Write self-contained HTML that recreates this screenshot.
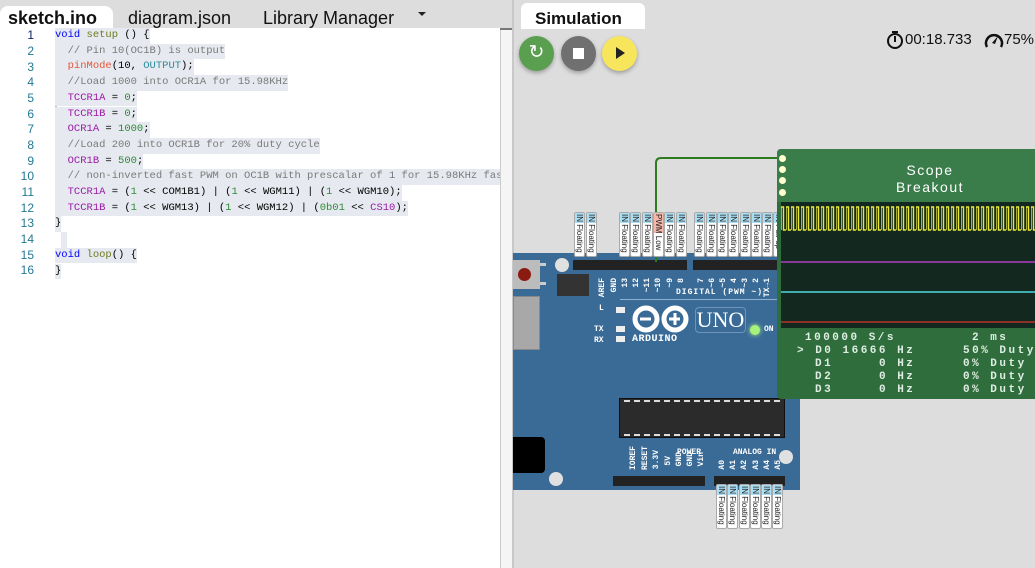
<!DOCTYPE html>
<html><head><meta charset="utf-8"><style>
*{margin:0;padding:0;box-sizing:border-box}
body{width:1035px;height:568px;overflow:hidden;background:#dddddd;position:relative;font-family:"Liberation Sans",sans-serif}
.a{position:absolute}
.tab{position:absolute;font-size:18px;color:#111;top:8px}
.code{position:absolute;left:0;top:28px;width:500px;height:540px;background:#fff}
.ln{position:absolute;left:0;width:34px;text-align:right;font:12px "Liberation Sans",sans-serif;color:#237893}
.cl{position:absolute;left:55px;font:10.5px/15.7px "Liberation Mono",monospace;white-space:pre;color:#000;background:#e6e9ef;height:15.7px}
.cm{color:#7a7a7a}.kw{color:#0000ff}.fn{color:#6f7a1f}.rd{color:#e4573b}.cy{color:#2a8a9c}.pu{color:#9b1aa8}.nu{color:#2e8b38}
.tag{position:absolute;width:11px;height:45px;background:#fff;border:1px solid #aaa;border-radius:2px;overflow:hidden}
.tag b{position:absolute;left:0;top:0;width:100%;height:10px;background:#a9def3}
.tag span{position:absolute;left:0;top:1px;writing-mode:vertical-rl;font-size:8px;line-height:9px;color:#222;white-space:nowrap}
.st{position:absolute;font:bold 11px "Liberation Mono",monospace;color:#dfeee2;letter-spacing:2.5px;white-space:pre}
.wl{position:absolute;font:bold 8px "Liberation Mono",monospace;color:#fff;writing-mode:vertical-rl;transform:rotate(180deg)}
</style></head><body>
<!-- left tabs -->
<div class="a" style="left:0;top:6px;width:113px;height:24px;background:#fff;border-radius:8px 8px 0 0"></div>
<div class="tab" style="left:8px;font-weight:bold">sketch.ino</div>
<div class="tab" style="left:128px">diagram.json</div>
<div class="tab" style="left:263px">Library Manager</div>
<div class="a" style="left:418px;top:12px;border:4px solid transparent;border-top:4px solid #222"></div>
<div class="code"></div>
<div class="a" style="left:500px;top:28px;width:12px;height:540px;background:#f5f5f5;border-left:1px solid #ccc"></div>
<div class="a" style="left:500px;top:28px;width:12px;height:2px;background:#777"></div>
<div class="a" style="left:512px;top:0;width:2px;height:568px;background:#c8c8c8"></div>
<div class="a" style="left:55px;top:44px;width:2px;height:173px;background:#bbb"></div>
<!-- code lines -->
<div class="ln" style="top:28px;color:#0b216f">1</div><div class="cl" style="top:28px"><span class="kw">void</span> <span class="fn">setup</span> () {</div>
<div class="ln" style="top:44px">2</div><div class="cl" style="top:43.7px"><span class="cm">  // Pin 10(OC1B) is output</span></div>
<div class="ln" style="top:60px">3</div><div class="cl" style="top:59.4px">  <span class="rd">pinMode</span>(10, <span class="cy">OUTPUT</span>);</div>
<div class="ln" style="top:75px">4</div><div class="cl" style="top:75.1px"><span class="cm">  //Load 1000 into OCR1A for 15.98KHz</span></div>
<div class="ln" style="top:91px">5</div><div class="cl" style="top:90.8px">  <span class="pu">TCCR1A</span> = <span class="nu">0</span>;</div>
<div class="ln" style="top:107px">6</div><div class="cl" style="top:106.5px">  <span class="pu">TCCR1B</span> = <span class="nu">0</span>;</div>
<div class="ln" style="top:122px">7</div><div class="cl" style="top:122.2px">  <span class="pu">OCR1A</span> = <span class="nu">1000</span>;</div>
<div class="ln" style="top:138px">8</div><div class="cl" style="top:137.9px"><span class="cm">  //Load 200 into OCR1B for 20% duty cycle</span></div>
<div class="ln" style="top:154px">9</div><div class="cl" style="top:153.6px">  <span class="pu">OCR1B</span> = <span class="nu">500</span>;</div>
<div class="ln" style="top:169px">10</div><div class="cl" style="top:169.3px;width:445px;overflow:hidden"><span class="cm">  // non-inverted fast PWM on OC1B with prescalar of 1 for 15.98KHz fast</span></div>
<div class="ln" style="top:185px">11</div><div class="cl" style="top:185px">  <span class="pu">TCCR1A</span> = (<span class="nu">1</span> &lt;&lt; COM1B1) | (<span class="nu">1</span> &lt;&lt; WGM11) | (<span class="nu">1</span> &lt;&lt; WGM10);</div>
<div class="ln" style="top:201px">12</div><div class="cl" style="top:200.7px">  <span class="pu">TCCR1B</span> = (<span class="nu">1</span> &lt;&lt; WGM13) | (<span class="nu">1</span> &lt;&lt; WGM12) | (<span class="nu">0b01</span> &lt;&lt; <span class="pu">CS10</span>);</div>
<div class="ln" style="top:216px">13</div><div class="cl" style="top:216.4px">}</div>
<div class="ln" style="top:232px">14</div><div class="cl" style="top:232.1px;left:61px"> </div>
<div class="ln" style="top:248px">15</div><div class="cl" style="top:247.8px"><span class="kw">void</span> <span class="fn">loop</span>() {</div>
<div class="ln" style="top:263px">16</div><div class="cl" style="top:263.5px">}</div>

<!-- simulation tab -->
<div class="a" style="left:521px;top:3px;width:124px;height:26px;background:#fff;border-radius:6px 6px 0 0"></div>
<div class="a" style="left:535px;top:9px;font-size:17px;font-weight:bold;color:#111">Simulation</div>
<div class="a" style="left:519px;top:36px;width:35px;height:35px;border-radius:50%;background:#5a9e50;box-shadow:0 2px 4px rgba(0,0,0,.3);color:#fff;font-size:19px;text-align:center;line-height:34px">&#x21bb;</div>
<div class="a" style="left:561px;top:36px;width:35px;height:35px;border-radius:50%;background:#707070;box-shadow:0 2px 4px rgba(0,0,0,.3)"><div class="a" style="left:12px;top:12px;width:11px;height:11px;background:#fff"></div></div>
<div class="a" style="left:602px;top:36px;width:35px;height:35px;border-radius:50%;background:#f7e65b;box-shadow:0 2px 4px rgba(0,0,0,.3)"><div class="a" style="left:14px;top:11px;border-left:9px solid #222;border-top:6px solid transparent;border-bottom:6px solid transparent"></div></div>
<svg class="a" style="left:886px;top:30px" width="20" height="20"><circle cx="9" cy="11" r="7" fill="none" stroke="#111" stroke-width="2"/><rect x="6" y="1" width="6" height="2" fill="#111"/><rect x="8" y="6" width="2" height="6" fill="#111"/></svg>
<div class="a" style="left:905px;top:31px;font-size:15px;color:#111">00:18.733</div>
<svg class="a" style="left:983px;top:30px" width="22" height="20"><path d="M4 17 A8 8 0 1 1 18 17" fill="none" stroke="#111" stroke-width="2.5"/><path d="M9 13 L15 6 L12 14 Z" fill="#111"/></svg>
<div class="a" style="left:1004px;top:31px;font-size:15px;color:#111">75%</div>

<!-- arduino board -->
<div class="a" style="left:513px;top:253px;width:287px;height:237px;background:#3a6b97"></div>
<div class="a" style="left:513px;top:260px;width:27px;height:29px;background:#bcbcbc"></div>
<div class="a" style="left:518px;top:268px;width:13px;height:13px;border-radius:50%;background:#8b1a10"></div>
<div class="a" style="left:540px;top:263px;width:6px;height:3px;background:#ccc"></div>
<div class="a" style="left:540px;top:282px;width:6px;height:3px;background:#ccc"></div>
<div class="a" style="left:555px;top:258px;width:14px;height:14px;border-radius:50%;background:#e0e0e0"></div>
<div class="a" style="left:557px;top:274px;width:32px;height:22px;background:#333"></div>
<div class="a" style="left:513px;top:296px;width:27px;height:54px;background:#a8a8a8;border:1px solid #888"></div>
<div class="a" style="left:573px;top:260px;width:114px;height:10px;background:#222"></div>
<div class="a" style="left:693px;top:260px;width:87px;height:10px;background:#222"></div>
<div class="wl" style="left:598px;top:278px">AREF</div>
<div class="wl" style="left:610px;top:278px">GND</div>
<div class="wl" style="left:621px;top:278px">13</div><div class="wl" style="left:632px;top:278px">12</div>
<div class="wl" style="left:643px;top:278px">~11</div><div class="wl" style="left:654px;top:278px">~10</div>
<div class="wl" style="left:666px;top:278px">~9</div><div class="wl" style="left:677px;top:278px">8</div>
<div class="wl" style="left:697px;top:278px">7</div><div class="wl" style="left:708px;top:278px">~6</div>
<div class="wl" style="left:719px;top:278px">~5</div><div class="wl" style="left:730px;top:278px">4</div>
<div class="wl" style="left:741px;top:278px">~3</div><div class="wl" style="left:752px;top:278px">2</div>
<div class="wl" style="left:763px;top:278px">TX→1</div>
<div class="a" style="left:676px;top:288px;font:bold 8px 'Liberation Mono',monospace;color:#fff;letter-spacing:1px">DIGITAL (PWM ~)</div>
<div class="a" style="left:620px;top:299px;width:160px;height:1px;background:#8fb0cc"></div>
<div class="a" style="left:599px;top:304px;font:bold 8px 'Liberation Mono',monospace;color:#fff">L</div>
<div class="a" style="left:594px;top:324px;font:bold 8px 'Liberation Mono',monospace;color:#fff;line-height:11px">TX<br>RX</div>
<div class="a" style="left:616px;top:307px;width:9px;height:6px;background:#eee"></div>
<div class="a" style="left:616px;top:326px;width:9px;height:6px;background:#eee"></div>
<div class="a" style="left:616px;top:336px;width:9px;height:6px;background:#eee"></div>
<svg class="a" style="left:630px;top:305px" width="62" height="30"><g fill="none" stroke="#fff" stroke-width="5"><circle cx="16" cy="14" r="11"/><circle cx="45" cy="14" r="11"/></g><rect x="10" y="12.5" width="11" height="3" fill="#fff"/><rect x="39" y="12.5" width="11" height="3" fill="#fff"/><rect x="43.5" y="8" width="3" height="12" fill="#fff"/></svg>
<div class="a" style="left:632px;top:334px;font:bold 10px 'Liberation Mono',monospace;color:#fff;letter-spacing:.5px">ARDUINO</div>
<div class="a" style="left:695px;top:307px;width:51px;height:26px;border:1px solid #6d95bb;border-radius:4px;color:#fff;font:22px 'Liberation Serif',serif;text-align:center;line-height:24px">UNO</div>
<div class="a" style="left:750px;top:325px;width:10px;height:10px;border-radius:50%;background:#a7f27a;box-shadow:0 0 5px #b8ff8a"></div>
<div class="a" style="left:764px;top:325px;font:bold 8px 'Liberation Mono',monospace;color:#fff">ON</div>
<div class="a" style="left:619px;top:398px;width:166px;height:40px;background:#2b2b2b;border:1px solid #111"></div>
<div class="a" style="left:624px;top:400px;width:156px;height:2px;border-top:2px dashed #ddd"></div>
<div class="a" style="left:624px;top:434px;width:156px;height:2px;border-top:2px dashed #ddd"></div>
<div class="a" style="left:513px;top:437px;width:32px;height:36px;background:#000;border-radius:0 4px 4px 0"></div>
<div class="a" style="left:549px;top:472px;width:14px;height:14px;border-radius:50%;background:#e0e0e0"></div>
<div class="a" style="left:779px;top:450px;width:14px;height:14px;border-radius:50%;background:#e0e0e0"></div>
<div class="wl" style="left:629px;top:446px">IOREF</div><div class="wl" style="left:641px;top:446px">RESET</div>
<div class="wl" style="left:652px;top:450px">3.3V</div><div class="wl" style="left:664px;top:456px">5V</div>
<div class="wl" style="left:675px;top:452px">GND</div><div class="wl" style="left:686px;top:452px">GND</div><div class="wl" style="left:697px;top:452px">Vin</div>
<div class="a" style="left:677px;top:448px;font:bold 8px 'Liberation Mono',monospace;color:#fff">POWER</div>
<div class="a" style="left:733px;top:448px;font:bold 8px 'Liberation Mono',monospace;color:#fff">ANALOG IN</div>
<div class="wl" style="left:718px;top:460px">A0</div><div class="wl" style="left:729px;top:460px">A1</div><div class="wl" style="left:740px;top:460px">A2</div><div class="wl" style="left:752px;top:460px">A3</div><div class="wl" style="left:763px;top:460px">A4</div><div class="wl" style="left:774px;top:460px">A5</div>
<div class="a" style="left:613px;top:476px;width:92px;height:10px;background:#222"></div>
<div class="a" style="left:714px;top:476px;width:71px;height:10px;background:#222"></div>

<!-- wire -->
<svg class="a" style="left:0;top:0" width="1035" height="568"><path d="M656 262 V163 Q656 158 661 158 H782" fill="none" stroke="#2d7a1f" stroke-width="2"/></svg>

<!-- pin tags top -->
<div class="tag" style="left:574px;top:212px"><b></b><span>IN Floating</span></div>
<div class="tag" style="left:586px;top:212px"><b></b><span>IN Floating</span></div>
<div class="tag" style="left:619px;top:212px"><b></b><span>IN Floating</span></div>
<div class="tag" style="left:630px;top:212px"><b></b><span>IN Floating</span></div>
<div class="tag" style="left:642px;top:212px"><b></b><span>IN Floating</span></div>
<div class="tag" style="left:653px;top:212px"><b style="background:#f4b7a8;height:20px"></b><span>PWM Low</span></div>
<div class="tag" style="left:664px;top:212px"><b></b><span>IN Floating</span></div>
<div class="tag" style="left:676px;top:212px"><b></b><span>IN Floating</span></div>
<div class="tag" style="left:694px;top:212px"><b></b><span>IN Floating</span></div>
<div class="tag" style="left:706px;top:212px"><b></b><span>IN Floating</span></div>
<div class="tag" style="left:717px;top:212px"><b></b><span>IN Floating</span></div>
<div class="tag" style="left:728px;top:212px"><b></b><span>IN Floating</span></div>
<div class="tag" style="left:740px;top:212px"><b></b><span>IN Floating</span></div>
<div class="tag" style="left:751px;top:212px"><b></b><span>IN Floating</span></div>
<div class="tag" style="left:762px;top:212px"><b></b><span>IN Floating</span></div>
<div class="tag" style="left:773px;top:212px"><b></b><span>IN Pull-up</span></div>
<!-- analog tags -->
<div class="tag" style="left:716px;top:484px"><b></b><span>IN Floating</span></div>
<div class="tag" style="left:727px;top:484px"><b></b><span>IN Floating</span></div>
<div class="tag" style="left:739px;top:484px"><b></b><span>IN Floating</span></div>
<div class="tag" style="left:750px;top:484px"><b></b><span>IN Floating</span></div>
<div class="tag" style="left:761px;top:484px"><b></b><span>IN Floating</span></div>
<div class="tag" style="left:772px;top:484px"><b></b><span>IN Floating</span></div>

<!-- scope -->
<div class="a" style="left:777px;top:149px;width:258px;height:250px;background:#2f6d3d;border-radius:4px 0 0 4px"></div>
<div class="a" style="left:777px;top:149px;width:258px;height:53px;background:#3a7d4a;border-radius:4px 0 0 0"></div>
<div class="a" style="left:875px;top:162px;width:110px;text-align:center;font-size:14px;color:#fff;letter-spacing:1.5px;line-height:17px">Scope<br>Breakout</div>
<div class="a" style="left:779px;top:155px;width:7px;height:7px;border-radius:50%;background:#ffffd0"></div>
<div class="a" style="left:779px;top:166px;width:7px;height:7px;border-radius:50%;background:#ffffd0"></div>
<div class="a" style="left:779px;top:177px;width:7px;height:7px;border-radius:50%;background:#ffffd0"></div>
<div class="a" style="left:779px;top:189px;width:7px;height:7px;border-radius:50%;background:#ffffd0"></div>
<svg class="a" style="left:781px;top:202px" width="254" height="128">
<defs><pattern id="sq" x="0" y="0" width="5" height="30" patternUnits="userSpaceOnUse"><path d="M0 28 V5 H2.5 V28 H5" fill="none" stroke="#e8e83a" stroke-width="1.4"/></pattern></defs>
<rect width="254" height="128" fill="#13291f"/>
<rect x="0" y="0" width="254" height="30" fill="url(#sq)"/>
<line x1="0" y1="60" x2="254" y2="60" stroke="#b23bc4" stroke-width="1.5"/>
<line x1="0" y1="90" x2="254" y2="90" stroke="#4fd8e0" stroke-width="1.5"/>
<line x1="0" y1="120" x2="254" y2="120" stroke="#b3342a" stroke-width="1.5"/>
<rect y="126" width="254" height="2" fill="#2f6d3d"/>
</svg>
<div class="st" style="left:805px;top:332px">100000 S/s</div><div class="st" style="left:972px;top:332px">2 ms</div>
<div class="st" style="left:797px;top:345px">&gt; D0 16666 Hz</div><div class="st" style="left:963px;top:345px">50% Duty</div>
<div class="st" style="left:815px;top:358px">D1</div><div class="st" style="left:879px;top:358px">0 Hz</div><div class="st" style="left:963px;top:358px">0% Duty</div>
<div class="st" style="left:815px;top:371px">D2</div><div class="st" style="left:879px;top:371px">0 Hz</div><div class="st" style="left:963px;top:371px">0% Duty</div>
<div class="st" style="left:815px;top:384px">D3</div><div class="st" style="left:879px;top:384px">0 Hz</div><div class="st" style="left:963px;top:384px">0% Duty</div>
</body></html>
